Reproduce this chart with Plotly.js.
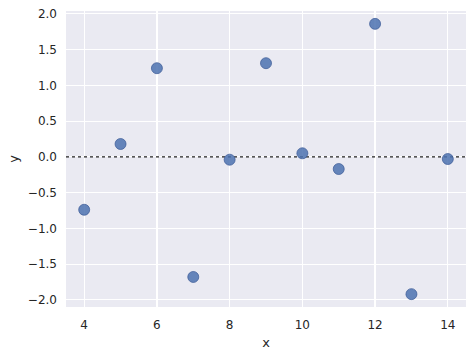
<!DOCTYPE html>
<html><head><meta charset="utf-8">
<script src="https://cdn.plot.ly/plotly-3.0.1.min.js"></script>
<style>body{margin:0;background:#fff}#c{width:474px;height:356px}</style>
</head><body><div id="c"></div>
<script>
const xVals = [4, 5, 6, 7, 8, 9, 10, 11, 12, 13, 14];
const yVals = [-0.74, 0.18, 1.24, -1.68, -0.04, 1.31, 0.05, -0.17, 1.86, -1.92, -0.03];
const xTicks = [4, 6, 8, 10, 12, 14];
const yTicks = [-2.0, -1.5, -1.0, -0.5, 0.0, 0.5, 1.0, 1.5, 2.0];
const yTickText = yTicks.map(v => (v < 0 ? '\u2212' : '') + Math.abs(v).toFixed(1));

const traces = [
  {x: [3.5, 14.5], y: [0, 0], mode: 'lines', line: {color: '#222', width: 1.3, dash: 'dot'}, hoverinfo: 'skip', showlegend: false},
  {x: xVals, y: yVals, mode: 'markers', showlegend: false,
   marker: {size: 11, color: 'rgba(76,114,176,0.85)', line: {color: 'rgba(60,90,150,0.9)', width: 0.8}}}
];
const layout = {
  width: 474, height: 356,
  margin: {l: 66, r: 8, t: 11, b: 49},
  paper_bgcolor: '#fff', plot_bgcolor: '#eaeaf2',
  font: {family: 'DejaVu Sans', size: 12, color: '#262626'},
  xaxis: {range: [3.5, 14.5], tickvals: xTicks, ticktext: xTicks.map(String), gridcolor: '#fff', gridwidth: 1.2, zeroline: false, showline: false, ticks: '', ticklabelstandoff: 9, title: {text: 'x', font: {size: 13}, standoff: 6}},
  yaxis: {range: [-2.1, 2.04], tickvals: yTicks, ticktext: yTickText, gridcolor: '#fff', gridwidth: 1.2, zeroline: false, showline: false, ticks: '', ticklabelstandoff: 8, title: {text: 'y', font: {size: 13}, standoff: 6}},
};
Plotly.newPlot('c', traces, layout, {displayModeBar: false, staticPlot: true});
</script></body></html>
